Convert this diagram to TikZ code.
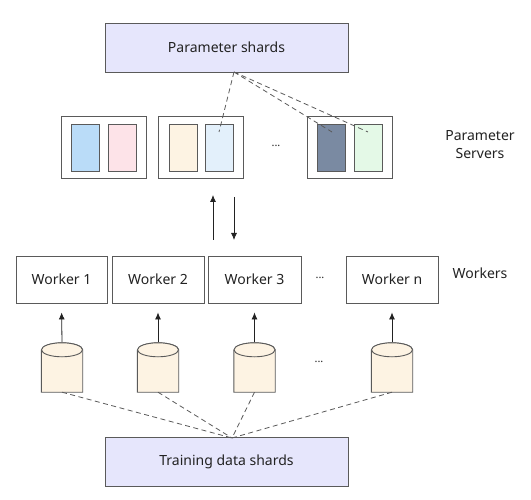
\documentclass[tikz,border=0pt]{standalone}
\usepackage{fontspec}
\setmainfont{Noto Sans}
\usetikzlibrary{calc,arrows.meta}
\definecolor{lav}{HTML}{E6E6FC}
\definecolor{cream}{HTML}{FDF3E3}
\definecolor{sblue}{HTML}{BADCF8}
\definecolor{spink}{HTML}{FDE3E8}
\definecolor{scream}{HTML}{FDF3E3}
\definecolor{slblue}{HTML}{E3F0FB}
\definecolor{sslate}{HTML}{7A8AA2}
\definecolor{sgreen}{HTML}{E4F9E7}
\definecolor{edge}{HTML}{5A5A5A}
\definecolor{txt}{HTML}{222222}
\tikzset{
  box/.style={draw=edge, line width=0.9pt, inner sep=0pt},
  bigbox/.style={box, fill=lav, minimum width=243pt, minimum height=49pt, font=\fontsize{14}{16}\selectfont, text=txt},
  srv/.style={box, fill=white, minimum width=85pt, minimum height=62pt},
  shard/.style={box, minimum width=28pt, minimum height=47pt},
  worker/.style={box, fill=white, minimum height=47pt, font=\fontsize{14}{16}\selectfont, text=txt},
  lbl/.style={font=\fontsize{14}{18}\selectfont, text=txt, align=center},
  dots/.style={font=\fontsize{11}{12}\selectfont, text=txt},
  arr/.style={-{Latex[length=7pt,width=6pt]}, line width=0.8pt, draw=txt},
  dsh/.style={dash pattern=on 5pt off 3.5pt, line width=0.8pt, draw=edge},
  cylbox/.style={minimum width=41pt, minimum height=49pt, inner sep=0pt}
}
\begin{document}
\begin{tikzpicture}[x=1pt,y=-1pt]
\useasboundingbox (0,0) rectangle (531,500);
% parameter shards
\node[bigbox] (ps) at (226.5,47.5) {Parameter shards};
\node[bigbox] (tds) at (226.5,462) {Training data shards};
% servers
\node[srv] (srv1) at (103.5,147) {};
\node[srv] (srv2) at (200.5,147) {};
\node[srv] (srv3) at (349.5,147) {};
\node[shard, fill=sblue] (a1) at (85,147.5) {};
\node[shard, fill=spink] (a2) at (122,147.5) {};
\node[shard, fill=scream] (b1) at (183,147.5) {};
\node[shard, fill=slblue] (b2) at (219,147.5) {};
\node[shard, fill=sslate] (c1) at (331.5,147.5) {};
\node[shard, fill=sgreen] (c2) at (368,147.5) {};
\node[dots] (dt1) at (276,146) {...};
\node[lbl] (pslbl) at (480,145) {Parameter\\Servers};
% workers
\node[worker, minimum width=91pt] (w1) at (61.5,279.5) {Worker 1};
\node[worker, minimum width=92pt] (w2) at (158,279.5) {Worker 2};
\node[worker, minimum width=93pt] (w3) at (254.5,279.5) {Worker 3};
\node[worker, minimum width=92pt] (wn) at (392,279.5) {Worker n};
\node[dots] (dt2) at (320,278) {...};
\node[lbl] (wlbl) at (480,273) {Workers};
% cylinders
\foreach \n/\x in {d1/62,d2/158,d3/254.5,d4/392}{
  \node[cylbox] (\n) at (\x,367.5) {};
  \draw[edge, line width=0.9pt, fill=cream]
    ($(\n.north west)+(0,7)$) -- (\n.south west) -- (\n.south east) -- ($(\n.north east)+(0,7)$)
    arc[start angle=0, end angle=-180, x radius=20.5, y radius=7];
  \draw[edge, line width=0.9pt, fill=cream] ($(\n.north)+(0,7)$) ellipse[x radius=20.5, y radius=7];
}
\node[dots] (dt3) at (319,362) {...};
% arrows cylinders -> workers
\draw[arr, shorten <=1pt, shorten >=9pt] (d1.north) -- (w1.south);
\draw[arr, shorten <=1pt, shorten >=9pt] (d2.north) -- (w2.south);
\draw[arr, shorten <=1pt, shorten >=9pt] (d3.north) -- (w3.south);
\draw[arr, shorten <=1pt, shorten >=9pt] (d4.north) -- (wn.south);
% up / down arrows
\coordinate (u1) at (213,256);
\coordinate (u2) at (213,178);
\coordinate (v1) at (234,178);
\coordinate (v2) at (234,256);
\draw[arr, shorten <=16pt, shorten >=17pt] (u1) -- (u2);
\draw[arr, shorten <=19pt, shorten >=16pt] (v1) -- (v2);
% dashed lines from parameter shards
\coordinate (psb) at (234,72);
\coordinate (t1) at (219,132);
\coordinate (t2) at (332,132);
\coordinate (t3) at (368,132);
\draw[dsh] (psb) -- (t1);
\draw[dsh] (psb) -- (t2);
\draw[dsh] (psb) -- (t3);
% dashed lines to training data shards
\coordinate (tdt) at (232,438);
\draw[dsh] (d1.south) -- (tdt);
\draw[dsh] (d2.south) -- (tdt);
\draw[dsh] (d3.south) -- (tdt);
\draw[dsh] (d4.south) -- (tdt);
\end{tikzpicture}
\end{document}
